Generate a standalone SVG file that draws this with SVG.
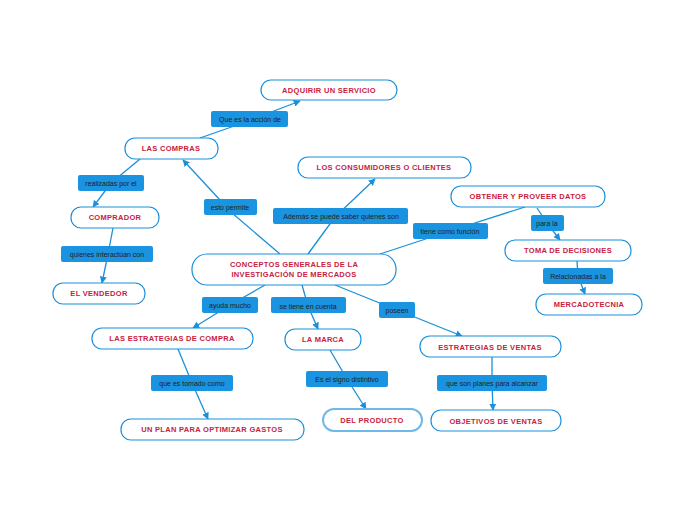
<svg xmlns="http://www.w3.org/2000/svg" width="697" height="520" viewBox="0 0 697 520">
<defs>
<marker id="ar" viewBox="0 0 10 10" refX="9" refY="5" markerWidth="7" markerHeight="7" orient="auto" markerUnits="userSpaceOnUse"><path d="M0,0L10,5L0,10z" fill="#1b8fd9"/></marker>
<style>
.n rect{fill:#fff;stroke:#1b8fd9;stroke-width:1.2}
.n text{font-family:"Liberation Sans",Arial,sans-serif;font-weight:bold;font-size:7.5px;fill:#c8213f;text-anchor:middle;letter-spacing:0.3px}
.l rect{fill:#1a93e0}
.l text{font-family:"Liberation Sans",Arial,sans-serif;font-size:7px;fill:#222;text-anchor:middle}
#c line{stroke:#1b8fd9;stroke-width:1.3}
#c line.a{marker-end:url(#ar)}
</style>
</defs>
<rect width="697" height="520" fill="#fff"/>
<g id="c">
<line x1="280" y1="254" x2="232" y2="213"/><line class="a" x1="232" y1="213" x2="183" y2="160"/>
<line x1="200" y1="138" x2="240" y2="124"/><line class="a" x1="240" y1="124" x2="300" y2="101"/>
<line x1="140" y1="159" x2="111" y2="183"/><line class="a" x1="111" y1="183" x2="93" y2="207"/>
<line x1="113" y1="228" x2="108" y2="254"/><line class="a" x1="108" y1="254" x2="102" y2="283"/>
<line x1="308" y1="254" x2="335" y2="217"/><line class="a" x1="335" y1="217" x2="375" y2="179"/>
<line x1="380" y1="254" x2="450" y2="231"/><line x1="450" y1="231" x2="525" y2="207"/>
<line x1="537" y1="208" x2="547" y2="223"/><line class="a" x1="547" y1="223" x2="560" y2="240"/>
<line x1="577" y1="261" x2="578" y2="276"/><line class="a" x1="578" y1="276" x2="585" y2="294"/>
<line x1="265" y1="285" x2="230" y2="305"/><line class="a" x1="230" y1="305" x2="193" y2="328"/>
<line x1="302" y1="285" x2="308" y2="306"/><line class="a" x1="308" y1="306" x2="318" y2="329"/>
<line x1="335" y1="285" x2="397" y2="310"/><line class="a" x1="397" y1="310" x2="462" y2="336"/>
<line x1="178" y1="349" x2="192" y2="383"/><line class="a" x1="192" y1="383" x2="208" y2="419"/>
<line x1="330" y1="350" x2="347" y2="379"/><line class="a" x1="347" y1="379" x2="366" y2="409"/>
<line x1="492" y1="357" x2="492" y2="383"/><line class="a" x1="492" y1="383" x2="493" y2="410"/>
</g>
<g id="n1" class="n"><rect x="261" y="80" width="136" height="20" rx="10"/><text x="329" y="93">ADQUIRIR UN SERVICIO</text></g>
<g id="n2" class="n"><rect x="125" y="138" width="93" height="21" rx="10"/><text x="171" y="151">LAS COMPRAS</text></g>
<g id="n3" class="n"><rect x="298" y="157" width="173" height="21" rx="10"/><text x="384" y="170">LOS CONSUMIDORES O CLIENTES</text></g>
<g id="n4" class="n"><rect x="451" y="186" width="154" height="21" rx="10"/><text x="528" y="199">OBTENER Y PROVEER DATOS</text></g>
<g id="n5" class="n"><rect x="71" y="207" width="88" height="21" rx="10"/><text x="115" y="220">COMPRADOR</text></g>
<g id="n6" class="n"><rect x="505" y="240" width="126" height="21" rx="10"/><text x="568" y="253">TOMA DE DECISIONES</text></g>
<g id="n7" class="n"><rect x="192" y="254" width="204" height="31" rx="15"/><text x="294" y="267">CONCEPTOS GENERALES DE LA</text><text x="294" y="277">INVESTIGACIÓN DE MERCADOS</text></g>
<g id="n8" class="n"><rect x="53" y="283" width="92" height="21" rx="10"/><text x="99" y="296">EL VENDEDOR</text></g>
<g id="n9" class="n"><rect x="536" y="294" width="106" height="21" rx="10"/><text x="589" y="307">MERCADOTECNIA</text></g>
<g id="n10" class="n"><rect x="92" y="328" width="161" height="21" rx="10"/><text x="172" y="341">LAS ESTRATEGIAS DE COMPRA</text></g>
<g id="n11" class="n"><rect x="285" y="329" width="76" height="21" rx="10"/><text x="323" y="342">LA MARCA</text></g>
<g id="n12" class="n"><rect x="420" y="336" width="141" height="21" rx="10"/><text x="490" y="350">ESTRATEGIAS DE VENTAS</text></g>
<g id="n13" class="n"><rect x="121" y="419" width="183" height="21" rx="10"/><text x="212" y="432">UN PLAN PARA OPTIMIZAR GASTOS</text></g>
<g id="n14" class="n"><rect x="323" y="409" width="99" height="22" rx="11" style="stroke:#6fb8ea;stroke-width:2"/><text x="372" y="423">DEL PRODUCTO</text></g>
<g id="n15" class="n"><rect x="431" y="410" width="130" height="21" rx="10"/><text x="496" y="424">OBJETIVOS DE VENTAS</text></g>
<g id="l1" class="l"><rect x="211" y="111" width="77" height="16" rx="2"/><text x="250" y="122">Que es la acción de</text></g>
<g id="l2" class="l"><rect x="78" y="175" width="66" height="16" rx="2"/><text x="111" y="186">realizadas por el</text></g>
<g id="l3" class="l"><rect x="204" y="199" width="53" height="16" rx="2"/><text x="230" y="210">esto permite</text></g>
<g id="l4" class="l"><rect x="273" y="208" width="135" height="16" rx="2"/><text x="341" y="219">Además se puede saber quienes son</text></g>
<g id="l5" class="l"><rect x="413" y="223" width="75" height="16" rx="2"/><text x="450" y="234">tiene como función</text></g>
<g id="l6" class="l"><rect x="531" y="215" width="33" height="16" rx="2"/><text x="547" y="226">para la</text></g>
<g id="l7" class="l"><rect x="61" y="246" width="92" height="16" rx="2"/><text x="107" y="257">quienes interactúan con</text></g>
<g id="l8" class="l"><rect x="543" y="268" width="70" height="16" rx="2"/><text x="578" y="279">Relacionadas a la</text></g>
<g id="l9" class="l"><rect x="202" y="297" width="56" height="16" rx="2"/><text x="230" y="308">ayuda mucho</text></g>
<g id="l10" class="l"><rect x="271" y="297" width="75" height="16" rx="2"/><text x="308" y="309">se tiene en cuenta</text></g>
<g id="l11" class="l"><rect x="379" y="302" width="36" height="16" rx="2"/><text x="397" y="313">poseen</text></g>
<g id="l12" class="l"><rect x="151" y="375" width="82" height="16" rx="2"/><text x="192" y="386">que es tomado como</text></g>
<g id="l13" class="l"><rect x="306" y="371" width="82" height="16" rx="2"/><text x="347" y="382">Es el signo distintivo</text></g>
<g id="l14" class="l"><rect x="437" y="375" width="110" height="16" rx="2"/><text x="492" y="386">que son planes para alcanzar</text></g>
</svg>
